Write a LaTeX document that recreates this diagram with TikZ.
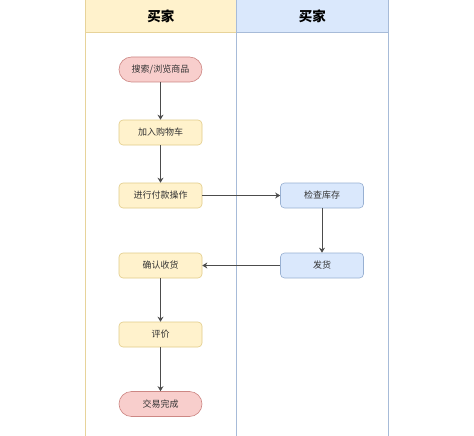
\documentclass[tikz,border=0pt]{standalone}
\usepackage{fontspec}
\setmainfont{Noto Sans CJK SC}
\usetikzlibrary{arrows.meta}
\definecolor{yfill}{HTML}{FFF2CC}
\definecolor{ystroke}{HTML}{D6B656}
\definecolor{bfill}{HTML}{DAE8FC}
\definecolor{bstroke}{HTML}{6C8EBF}
\definecolor{pfill}{HTML}{F8CECC}
\definecolor{pstroke}{HTML}{B85450}
\definecolor{txt}{HTML}{333333}
\begin{document}
\begin{tikzpicture}[x=1pt,y=-1pt,
  box/.style={draw, line width=0.6pt, rounded corners=4pt, minimum width=83pt, minimum height=25pt, inner sep=0pt, font=\fontsize{9}{10}\selectfont, text=txt},
  ybox/.style={box, fill=yfill, draw=ystroke!70},
  bbox/.style={box, fill=bfill, draw=bstroke!70},
  pbox/.style={box, fill=pfill, draw=pstroke!70, rounded corners=12.5pt},
  hdr/.style={font=\fontsize{13.5}{14}\selectfont\bfseries, text=black},
  flow/.style={draw=black!70, line width=0.9pt, -{Stealth[length=5pt,width=6pt]}}
]
\useasboundingbox (0,0) rectangle (474,436);
\fill[white] (0,0) rectangle (474,436);
% headers
\fill[yfill] (85,0) rectangle (236.5,32);
\fill[bfill] (236.5,0) rectangle (388,32);
\draw[ystroke!60, line width=0.7pt] (85,436) -- (85,0);
\draw[ystroke!60, line width=0.7pt] (85,32) -- (236.5,32);
\draw[bstroke!60, line width=0.7pt] (236.5,0) -- (236.5,436);
\draw[bstroke!60, line width=0.7pt] (236.5,32) -- (388,32);
\draw[bstroke!60, line width=0.7pt] (388,0) -- (388,436);
\node[hdr] (h1) at (160.75,16) {买家};
\node[hdr] (h2) at (312.25,16) {买家};
% nodes
\node[pbox] (s1) at (160.5,69.5) {搜索/浏览商品};
\node[ybox] (s2) at (160.5,132.5) {加入购物车};
\node[ybox] (s3) at (160.5,195.5) {进行付款操作};
\node[bbox] (s4) at (322,195.5) {检查库存};
\node[bbox] (s5) at (322,265.5) {发货};
\node[ybox] (s6) at (160.5,265.5) {确认收货};
\node[ybox] (s7) at (160.5,334.5) {评价};
\node[pbox] (s8) at (160.5,404) {交易完成};
% connectors
\draw[flow] (s1) -- (s2);
\draw[flow] (s2) -- (s3);
\draw[flow] (s3) -- (s4);
\draw[flow] (s4) -- (s5);
\draw[flow] (s5) -- (s6);
\draw[flow] (s6) -- (s7);
\draw[flow] (s7) -- (s8);
\end{tikzpicture}
\end{document}
